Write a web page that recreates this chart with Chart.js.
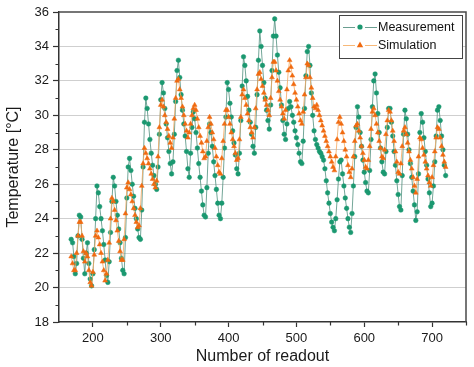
<!DOCTYPE html>
<html>
<head>
<meta charset="utf-8">
<script src="https://cdn.jsdelivr.net/npm/chart.js@4.4.0/dist/chart.umd.min.js"></script>
<style>
  html, body { margin: 0; padding: 0; background: #fff; }
</style>
</head>
<body>
<canvas id="tempChart" width="474" height="367"></canvas>
<script>
// readout number (x) and temperatures
const readouts = [168,170,172,174,176,178,180,182,184,186,
  188,190,192,194,196,198,200,202,204,206,
  208,210,212,214,216,218,220,222,224,226,
  228,230,232,234,236,238,240,242,244,246,
  248,250,252,254,256,258,260,262,264,266,
  268,270,272,274,276,278,280,282,284,286,
  288,290,292,294,296,298,300,302,304,306,
  308,310,312,314,316,318,320,322,324,326,
  328,330,332,334,336,338,340,342,344,346,
  348,350,352,354,356,358,360,362,364,366,
  368,370,372,374,376,378,380,382,384,386,
  388,390,392,394,396,398,400,402,404,406,
  408,410,412,414,416,418,420,422,424,426,
  428,430,432,434,436,438,440,442,444,446,
  448,450,452,454,456,458,460,462,464,466,
  468,470,472,474,476,478,480,482,484,486,
  488,490,492,494,496,498,500,502,504,506,
  508,510,512,514,516,518,520,522,524,526,
  528,530,532,534,536,538,540,542,544,546,
  548,550,552,554,556,558,560,562,564,566,
  568,570,572,574,576,578,580,582,584,586,
  588,590,592,594,596,598,600,602,604,606,
  608,610,612,614,616,618,620,622,624,626,
  628,630,632,634,636,638,640,642,644,646,
  648,650,652,654,656,658,660,662,664,666,
  668,670,672,674,676,678,680,682,684,686,
  688,690,692,694,696,698,700,702,704,706,
  708,710,712,714,716,718,720];

const measurement = [22.8,22.6,21.8,20.8,21.4,23.0,24.2,24.1,22.8,21.7,
  20.8,22.0,22.6,21.4,20.5,20.1,20.8,22.2,24.0,25.9,
  25.5,24.7,24.0,23.3,22.5,21.6,20.7,20.3,21.5,23.2,
  25.0,26.4,25.9,25.0,24.2,23.4,22.6,21.7,21.0,20.8,
  22.9,25.2,27.0,27.5,26.8,26.0,25.3,24.6,24.0,23.4,
  22.9,22.8,24.5,27.0,29.6,31.0,30.4,29.5,28.6,27.8,
  27.1,26.5,26.0,25.7,27.0,28.9,30.9,31.9,31.3,30.4,
  29.5,28.7,27.9,27.2,26.6,27.3,28.9,30.8,32.6,33.2,
  32.2,31.2,30.3,29.5,28.8,27.9,26.9,26.4,27.8,29.3,
  30.2,29.8,29.0,28.1,27.2,26.4,25.6,24.8,24.2,24.1,
  25.8,27.8,29.5,29.0,28.2,27.3,26.5,25.7,24.9,24.2,
  24.0,24.9,26.4,28.1,29.9,31.9,31.5,30.7,29.9,29.1,
  28.4,27.7,26.9,26.6,27.8,29.7,31.7,33.4,32.9,32.0,
  31.1,30.3,29.6,28.9,28.2,27.8,29.3,31.2,33.2,34.9,
  34.0,32.9,31.9,31.0,30.3,29.7,29.2,30.6,32.6,34.6,
  35.6,34.6,33.5,32.5,31.6,30.6,29.7,28.9,28.6,29.5,
  30.4,30.8,30.5,30.0,29.6,29.1,28.7,28.3,27.8,27.3,
  27.2,28.5,30.4,32.3,33.7,34.0,32.9,31.3,30.0,29.1,
  28.6,28.3,28.1,27.9,27.8,27.6,27.4,26.9,26.2,25.5,
  24.9,24.3,23.8,23.5,23.3,24.0,25.1,26.3,27.3,27.4,
  26.6,25.9,25.2,24.6,24.0,23.5,23.2,24.3,25.9,27.6,
  29.3,30.5,29.9,29.0,28.2,27.4,26.7,26.1,25.6,25.5,
  26.8,28.6,30.5,32.0,32.4,31.3,30.1,29.0,28.1,27.3,
  26.7,26.6,27.9,29.3,30.4,30.4,29.6,28.8,27.9,27.1,
  26.2,25.4,24.7,24.5,26.5,28.9,30.3,29.8,28.9,28.0,
  27.2,26.4,25.6,24.8,23.9,24.4,26.6,29.0,30.1,29.6,
  28.7,27.9,27.1,26.3,25.5,24.7,24.9,25.9,27.3,28.8,
  30.3,30.5,29.7,28.8,28.0,27.1,26.5];

const simulation = [21.8,21.4,21.0,21.0,22.0,23.0,23.8,23.8,23.0,22.1,
  21.5,22.0,21.8,21.0,20.3,20.1,20.9,21.9,23.0,23.3,
  22.9,22.5,22.0,21.5,21.0,20.4,20.8,21.6,22.6,24.0,
  25.2,25.0,24.5,23.9,23.3,22.7,22.1,21.6,21.6,22.8,
  24.3,25.8,26.1,25.7,25.4,25.0,24.6,24.2,23.8,23.5,
  23.6,24.6,25.9,27.2,28.1,27.8,27.5,27.2,26.9,26.6,
  26.3,26.0,25.8,26.2,27.6,29.3,30.6,30.9,30.5,30.0,
  29.6,29.2,28.8,28.4,28.1,28.7,29.8,31.0,32.0,32.1,
  31.5,31.0,30.5,30.0,29.5,29.1,28.7,29.0,29.5,30.0,
  30.4,30.6,30.3,29.8,29.3,28.8,28.4,27.9,27.5,27.6,
  28.5,29.3,29.9,29.5,29.0,28.6,28.1,27.6,27.1,26.7,
  26.6,27.5,28.5,29.5,30.3,30.3,29.9,29.5,29.0,28.6,
  28.2,27.8,27.4,27.5,28.6,29.9,31.2,31.5,31.0,30.6,
  30.1,29.7,29.3,29.0,28.7,29.3,30.4,31.5,32.4,32.5,
  32.1,31.7,31.3,30.9,30.6,30.3,30.0,31.0,32.2,33.1,
  33.1,32.6,32.0,31.4,30.9,30.5,30.1,29.8,30.3,31.5,
  32.6,33.2,32.8,32.3,31.8,31.3,30.9,30.5,30.1,29.7,
  29.5,30.2,31.2,32.2,33.0,32.9,32.2,31.6,31.0,30.5,
  30.4,30.6,30.3,30.0,29.7,29.4,29.1,28.8,28.5,28.2,
  27.9,27.6,27.3,27.0,26.8,27.6,28.6,29.6,29.9,29.5,
  29.0,28.5,28.0,27.6,27.1,26.7,26.4,26.9,27.6,28.5,
  29.4,29.5,29.1,28.7,28.2,27.8,27.4,27.0,26.9,27.4,
  28.2,29.2,30.2,30.4,30.0,29.5,29.0,28.5,28.1,27.6,
  27.5,28.0,28.9,29.7,30.3,30.2,29.7,29.1,28.5,27.9,
  27.3,26.7,26.6,27.2,28.2,29.1,29.3,28.9,28.4,27.9,
  27.4,26.9,26.4,25.9,25.5,26.3,27.6,28.7,28.6,28.1,
  27.7,27.3,26.9,26.5,26.1,25.9,26.4,27.1,27.9,28.7,
  29.3,29.2,28.7,28.2,27.7,27.3,27.0];

const xTicks = [200, 300, 400, 500, 600, 700];
const xMinor = [250, 350, 450, 550, 650, 750];
const yTicks = [18, 20, 22, 24, 26, 28, 30, 32, 34, 36];
const yMinor = [19, 21, 23, 25, 27, 29, 31, 33, 35];

const FONT = "'Liberation Sans', Arial, sans-serif";
const GREEN = '#1b9870';
const ORANGE = '#f06a10';

// kleine Ticks + Rahmen oben/rechts
const frameAndMinor = {
    id: 'frameAndMinor',
    afterDraw(chart) {
        const ctx = chart.ctx;
        const area = chart.chartArea;
        const xs = chart.scales.x, ys = chart.scales.y;
        ctx.save();
        ctx.strokeStyle = '#333';
        ctx.lineWidth = 1.2;
        ctx.beginPath();
        xMinor.forEach(v => {
            const px = Math.round(xs.getPixelForValue(v)) + 0.5;
            ctx.moveTo(px, area.bottom);
            ctx.lineTo(px, area.bottom + 3.5);
        });
        yMinor.forEach(v => {
            const py = Math.round(ys.getPixelForValue(v)) + 0.5;
            ctx.moveTo(area.left, py);
            ctx.lineTo(area.left - 3.5, py);
        });
        ctx.stroke();
        ctx.strokeStyle = '#4a4a4a';
        ctx.lineWidth = 1.5;
        ctx.beginPath();
        ctx.moveTo(area.left, area.top);
        ctx.lineTo(area.right, area.top);
        ctx.lineTo(area.right, area.bottom);
        ctx.stroke();
        ctx.restore();
    }
};

// Legende im Kasten oben rechts
const boxLegend = {
    id: 'boxLegend',
    afterDraw(chart) {
        const ctx = chart.ctx;
        const bx = 339.5, by = 15.5, bw = 123, bh = 43;
        ctx.save();
        ctx.fillStyle = '#fff';
        ctx.fillRect(bx, by, bw, bh);
        ctx.strokeStyle = '#444';
        ctx.lineWidth = 1;
        ctx.strokeRect(bx, by, bw, bh);

        const items = [
            { label: 'Measurement', line: '#6a9e90', color: GREEN, style: 'circle', y: 27 },
            { label: 'Simulation', line: '#f7b878', color: ORANGE, style: 'triangle', y: 45 }
        ];
        items.forEach(it => {
            ctx.strokeStyle = it.line;
            ctx.lineWidth = 1;
            ctx.beginPath();
            ctx.moveTo(343, it.y + 0.5);
            ctx.lineTo(355, it.y + 0.5);
            ctx.moveTo(365, it.y + 0.5);
            ctx.lineTo(377, it.y + 0.5);
            ctx.stroke();
            ctx.fillStyle = it.color;
            ctx.beginPath();
            if (it.style === 'circle') {
                ctx.arc(360, it.y, 2.6, 0, Math.PI * 2);
            } else {
                ctx.moveTo(360, it.y - 3.4);
                ctx.lineTo(363.2, it.y + 2.2);
                ctx.lineTo(356.8, it.y + 2.2);
                ctx.closePath();
            }
            ctx.fill();
            ctx.fillStyle = '#111';
            ctx.font = '12.5px ' + FONT;
            ctx.textBaseline = 'middle';
            ctx.textAlign = 'left';
            ctx.fillText(it.label, 378, it.y + 0.5);
        });
        ctx.restore();
    }
};

const ctx = document.getElementById('tempChart').getContext('2d');
new Chart(ctx, {
    type: 'line',
    data: {
        datasets: [
            {
                label: 'Measurement',
                data: measurement.map((v, i) => ({ x: readouts[i], y: v })),
                borderColor: '#4f8f7e',
                borderWidth: 0.8,
                pointStyle: 'circle',
                pointRadius: 2.3,
                pointBorderWidth: 0.5,
                pointBackgroundColor: GREEN,
                pointBorderColor: GREEN,
                order: 2
            },
            {
                label: 'Simulation',
                data: simulation.map((v, i) => ({ x: readouts[i], y: v })),
                borderColor: '#f5a860',
                borderWidth: 0.8,
                pointStyle: 'triangle',
                pointRadius: 2.8,
                pointBorderWidth: 0.5,
                pointBackgroundColor: ORANGE,
                pointBorderColor: ORANGE,
                order: 1
            }
        ]
    },
    options: {
        responsive: false,
        animation: false,
        devicePixelRatio: 1,
        layout: { padding: { top: 12, right: 8, bottom: 0, left: 0 } },
        plugins: {
            legend: { display: false },
            tooltip: { enabled: false }
        },
        scales: {
            x: {
                type: 'linear',
                min: 150,
                max: 750,
                afterBuildTicks: s => { s.ticks = xTicks.map(v => ({ value: v })); },
                afterFit: s => { s.height = 45; },
                ticks: {
                    color: '#1a1a1a',
                    font: { family: FONT, size: 13 },
                    padding: 4,
                    maxRotation: 0
                },
                grid: {
                    drawOnChartArea: false,
                    drawTicks: true,
                    tickLength: 5,
                    tickColor: '#333',
                    tickWidth: 1.2
                },
                border: { display: true, color: '#333', width: 1.5 },
                title: {
                    display: true,
                    text: 'Number of readout',
                    color: '#1a1a1a',
                    font: { family: FONT, size: 16 },
                    padding: { top: 0, bottom: 1 }
                }
            },
            y: {
                min: 18,
                max: 36,
                afterBuildTicks: s => { s.ticks = yTicks.map(v => ({ value: v })); },
                afterFit: s => { s.width = 59; },
                ticks: {
                    color: '#1a1a1a',
                    font: { family: FONT, size: 13 },
                    padding: 4
                },
                grid: {
                    drawOnChartArea: true,
                    color: c => (c.tick && (c.tick.value === 18 || c.tick.value === 36)) ? 'rgba(0,0,0,0)' : '#cfcfcf',
                    lineWidth: 1,
                    drawTicks: true,
                    tickLength: 6,
                    tickColor: '#333',
                    tickWidth: 1.2
                },
                border: { display: true, color: '#333', width: 1.5 },
                title: {
                    display: true,
                    text: 'Temperature [°C]',
                    color: '#1a1a1a',
                    font: { family: FONT, size: 16 },
                    padding: { top: 4, bottom: 0 }
                }
            }
        }
    },
    plugins: [frameAndMinor, boxLegend]
});
</script>
</body>
</html>
